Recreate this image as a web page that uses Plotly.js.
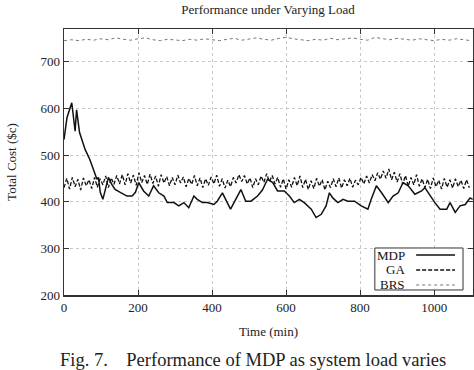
<!DOCTYPE html>
<html>
<head>
<meta charset="utf-8">
<script src="https://cdn.plot.ly/plotly-3.0.1.min.js"></script>
<style>html,body{margin:0;padding:0;background:#fff;}#chart{width:474px;height:370px;}</style>
</head>
<body>
<div id="chart"></div>
<script>
// MDP series (time in min, total cost)
var mdpTime = [0,8,14,21,30,34,42,57,70,80,89,93,98,105,111,120,129,138,152,170,184,193,202,215,229,242,256,270,279,297,310,324,337,351,360,374,387,405,414,428,441,450,464,478,491,505,523,536,550,564,577,595,609,622,636,649,668,681,695,708,717,726,740,754,767,785,803,821,830,844,858,876,889,903,916,930,948,966,975,989,1002,1016,1034,1043,1057,1070,1084,1097,1104];
var mdpCost = [533,580,595,612,551,597,548,512,490,466,448,452,420,405,423,452,437,426,420,412,412,420,441,423,412,434,419,412,398,398,391,398,387,412,405,398,398,394,401,419,398,384,405,426,401,401,412,425,448,441,423,423,412,398,405,398,384,366,373,391,419,408,398,405,401,401,391,384,405,434,419,398,412,419,441,434,416,423,430,412,398,384,384,398,377,391,394,408,405];

// GA series: sampled every 7.5 min starting at 0
var gaStart = 0, gaStep = 7.5;
var gaCost = [430,450,427,452,432,448,425,451,434,447,
  428,452,431,449,436,455,430,451,437,456,
  438,458,436,460,440,457,435,462,441,456,
  437,459,439,455,433,458,440,454,434,452,
  436,457,440,453,432,450,437,456,434,451,
  430,449,435,453,438,457,433,449,429,446,
  432,452,440,458,443,456,438,451,430,449,
  436,455,441,460,443,456,438,452,431,449,
  427,447,431,452,434,455,430,448,426,445,
  428,450,433,447,425,444,430,449,432,451,
  429,447,434,450,431,446,436,452,438,455,
  440,458,445,462,448,466,450,470,447,463,
  442,460,437,456,433,452,436,458,433,449,
  430,448,428,451,432,446,427,450,431,447,
  429,449,432,446,428,447,430];

// BRS series
var brsTime = [0,20,40,60,80,100,120,140,160,180,200,220,240,260,280,300,320,340,360,380,400,420,440,460,480,500,520,540,560,580,600,620,640,660,680,700,720,740,760,780,800,820,840,860,880,900,920,940,960,980,1000,1020,1040,1060,1080,1100];
var brsCost = [745,747,745,748,746,749,747,751,748,746,749,751,747,745,748,746,745,748,746,749,747,745,748,750,746,749,751,748,746,750,752,749,747,745,748,746,750,747,749,751,748,746,752,749,747,750,748,746,749,747,745,748,746,749,747,745];

var xTicks = [0,200,400,600,800,1000];
var yTicks = [200,300,400,500,600,700];
var seriesNames = ['MDP','GA','BRS'];

var serif = 'Liberation Serif, Times New Roman, serif';

var traces = [
  {x: mdpTime, y: mdpCost, mode: 'lines', name: seriesNames[0], line: {color: '#111', width: 1.5}},
  {x0: gaStart, dx: gaStep, y: gaCost, mode: 'lines', name: seriesNames[1], line: {color: '#111', width: 1.3, dash: '4px,2px'}},
  {x: brsTime, y: brsCost, mode: 'lines', name: seriesNames[2], line: {color: '#777', width: 1, dash: '3px,3px'}}
];

var L = {x0: 0.760, x1: 0.9756, y0: 0.0188, y1: 0.1767, tx: 0.838, lx0: 0.861, lx1: 0.956, rows: [0.150, 0.094, 0.0376]};
var shapes = [
  {type: 'rect', xref: 'paper', yref: 'paper', x0: L.x0, x1: L.x1, y0: L.y0, y1: L.y1, line: {color: '#333', width: 1}, fillcolor: '#fff', layer: 'above'}
];
var annotations = [
  {text: 'Fig. 7.    Performance of MDP as system load varies', xref: 'paper', yref: 'paper', x: 0.463, y: -0.245, xanchor: 'center', yanchor: 'middle', showarrow: false, font: {family: serif, size: 18.5, color: '#222'}}
];
for (var i = 0; i < 3; i++) {
  shapes.push({type: 'line', xref: 'paper', yref: 'paper', x0: L.lx0, x1: L.lx1, y0: L.rows[i], y1: L.rows[i], line: {color: traces[i].line.color, width: traces[i].line.width, dash: traces[i].line.dash || 'solid'}, layer: 'above'});
  annotations.push({text: seriesNames[i], xref: 'paper', yref: 'paper', x: L.tx, y: L.rows[i], xanchor: 'right', yanchor: 'middle', showarrow: false, font: {family: serif, size: 13, color: '#111'}});
}

var layout = {
  width: 474, height: 370,
  margin: {l: 64, r: 1, t: 29, b: 75},
  paper_bgcolor: '#fff', plot_bgcolor: '#fff',
  showlegend: false,
  font: {family: serif, size: 13, color: '#222'},
  title: {text: 'Performance under Varying Load', font: {family: serif, size: 13, color: '#222'}, x: 0.5655, xanchor: 'center', y: 0.974, yanchor: 'middle'},
  xaxis: {
    range: [0, 1105], tickvals: xTicks, ticktext: xTicks.map(String),
    ticks: 'inside', ticklen: 5, tickcolor: '#333',
    showline: true, linecolor: '#333', linewidth: 1.5, mirror: 'ticks',
    showgrid: true, gridcolor: '#c8c8c8', griddash: 'dot', gridwidth: 1,
    zeroline: false,
    title: {text: 'Time (min)', font: {family: serif, size: 13}, standoff: 13}
  },
  yaxis: {
    range: [200, 770], tickvals: yTicks, ticktext: yTicks.map(String),
    ticks: 'inside', ticklen: 5, tickcolor: '#333',
    showline: true, linecolor: '#333', linewidth: 1.5, mirror: 'ticks',
    showgrid: true, gridcolor: '#c8c8c8', griddash: 'dot', gridwidth: 1,
    zeroline: false,
    title: {text: 'Total Cost ($c)', font: {family: serif, size: 13}, standoff: 21}
  },
  shapes: shapes,
  annotations: annotations
};

Plotly.newPlot('chart', traces, layout, {staticPlot: true, displayModeBar: false});
</script>
</body>
</html>
